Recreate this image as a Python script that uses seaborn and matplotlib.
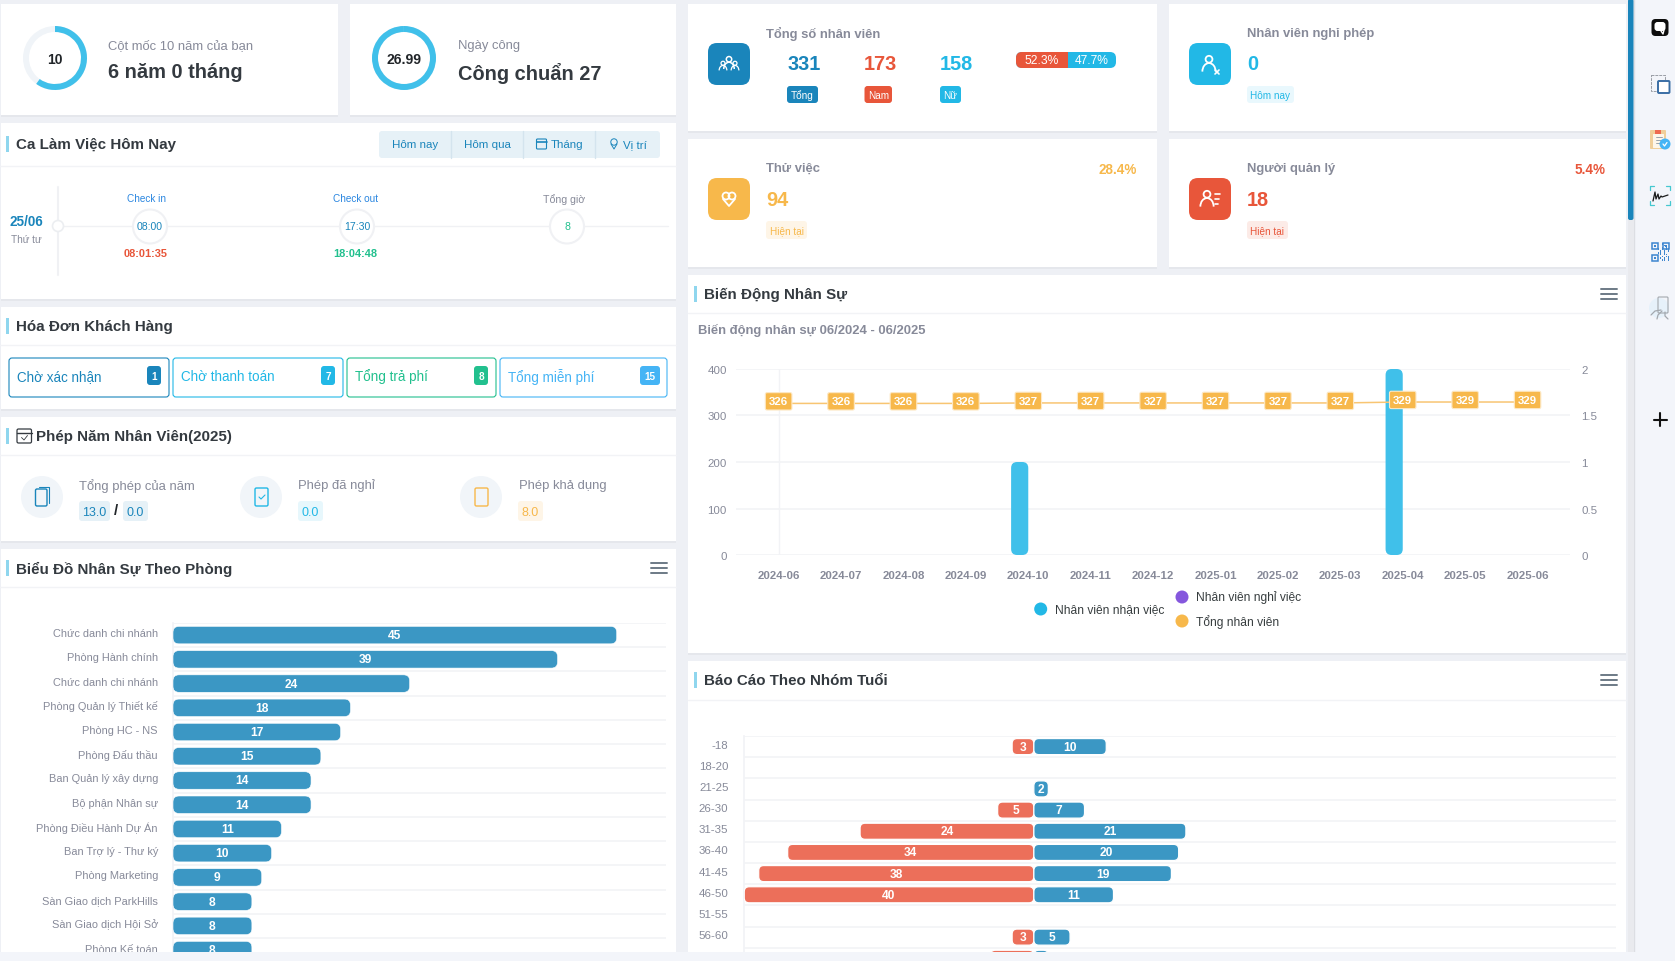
import matplotlib
matplotlib.use('Agg')
import matplotlib.pyplot as plt
from matplotlib.patches import FancyBboxPatch, Circle, Wedge, Rectangle, Arc
from matplotlib.transforms import ScaledTranslation
import seaborn as sns
import pandas as pd
import numpy as np

# Department chart
dept_names = ['Chức danh chi nhánh', 'Phòng Hành chính', 'Chức danh chi nhánh', 'Phòng Quản lý Thiết kế',
              'Phòng HC - NS', 'Phòng Đấu thầu', 'Ban Quản lý xây dựng', 'Bộ phận Nhân sự',
              'Phòng Điều Hành Dự Án', 'Ban Trợ lý - Thư ký', 'Phòng Marketing', 'Sàn Giao dịch ParkHills',
              'Sàn Giao dịch Hội Sở', 'Phòng Kế toán']
dept_counts = [45, 39, 24, 18, 17, 15, 14, 14, 11, 10, 9, 8, 8, 8]

# Staff movement chart
months = ['2024-06', '2024-07', '2024-08', '2024-09', '2024-10', '2024-11', '2024-12',
          '2025-01', '2025-02', '2025-03', '2025-04', '2025-05', '2025-06']
hired = [0, 0, 0, 0, 1, 0, 0, 0, 0, 0, 2, 0, 0]
left = [0, 0, 0, 0, 0, 0, 0, 0, 0, 0, 0, 0, 0]
total_staff = [326, 326, 326, 326, 327, 327, 327, 327, 327, 327, 329, 329, 329]

# Age group chart
age_groups = ['-18', '18-20', '21-25', '26-30', '31-35', '36-40', '41-45', '46-50', '51-55', '56-60', '61-65']
age_female = [3, 0, 0, 5, 24, 34, 38, 40, 0, 3, 6]
age_male = [10, 0, 2, 7, 21, 20, 19, 11, 0, 5, 2]

# Progress rings
milestone_value = 10
milestone_share = 0.6
workday_value = 26.99
workday_share = 26.99 / 27

W, H = 1675, 962
BLUE = '#1a85bb'
CYAN = '#22b8e6'
GREEN = '#22c08e'
SKY = '#45b4f5'
YELLOW = '#f7b84b'
RED = '#e8563a'
GRAY = '#878a99'
DARK = '#343a40'
BAR_BLUE = '#3b97c4'
BAR_RED = '#ec6f5a'
LINE = '#f2f3f6'

sns.set_theme(style='white')
plt.rcParams['font.family'] = ['Liberation Sans', 'DejaVu Sans']

fig = plt.figure(figsize=(W / 100, H / 100), dpi=100, facecolor='#eef0f5')

# whole figure axes in pixel coordinates for the dashboard cards
bg = fig.add_axes([0, 0, 1, 1], zorder=0)
bg.set_xlim(0, W)
bg.set_ylim(H - 1, -1)
bg.axis('off')


def px_axes(x0, y0, x1, y1, zorder=2):
    ax = fig.add_axes([x0 / W, 1 - (y1 + 1) / H, (x1 - x0) / W, (y1 - y0) / H], zorder=zorder)
    ax.patch.set_visible(False)
    return ax


def txt(x, y, s, px=13, color=GRAY, weight='normal', ha='left', ax=bg):
    ax.text(x, y, s, fontsize=px * 0.72, color=color, fontweight=weight, ha=ha, va='center')


def rbox(x0, y0, x1, y1, r=3, fc='white', ec='none', lw=1, z=1):
    bg.add_patch(FancyBboxPatch((x0, y0), x1 - x0, y1 - y0, boxstyle=f'round,pad=0,rounding_size={r}',
                                fc=fc, ec=ec, lw=lw, zorder=z))


def card(x0, y0, x1, y1):
    bg.add_patch(Rectangle((x0, y1), x1 - x0, 2, fc='#e5e7ec', ec='none', zorder=0.9))
    bg.add_patch(Rectangle((x0, y0), x1 - x0, y1 - y0, fc='white', ec='none', zorder=1))


def header(x0, x1, y_mid, y_line, title, tx=None, menu=False):
    bg.add_patch(Rectangle((x0 + 6, y_mid - 8), 3, 16, fc='#8fd6ee', ec='none', zorder=2))
    txt(tx if tx else x0 + 16.5, y_mid, title, px=15.1, color=DARK, weight='bold')
    bg.plot([x0, x1], [y_line, y_line], color=LINE, lw=1, zorder=2)
    if menu:
        for dy in (-5, 0, 5):
            bg.plot([x1 - 25, x1 - 9], [y_mid + dy, y_mid + dy], color='#6c7a86', lw=1.4, zorder=3)


def ring(cx, cy, share, label):
    bg.add_patch(Circle((cx, cy), 29, fc='none', ec='#f0f4f8', lw=4.3, zorder=2))
    bg.add_patch(Wedge((cx, cy), 32, 270, 270 + share * 360, width=6, fc='#40c0ea', ec='none', zorder=3))
    txt(cx, cy + 1, label, px=14, color='#212529', weight='bold', ha='center')


def person(x, y, s=1.0, color='white', lw=1.3):
    bg.add_patch(Circle((x, y - 5 * s), 3.6 * s, fc='none', ec=color, lw=lw, zorder=5))
    bg.add_patch(Arc((x, y + 8 * s), 14 * s, 18 * s, theta1=180, theta2=360, ec=color, lw=lw, zorder=5))


def icon_box(x0, y0, color):
    rbox(x0, y0, x0 + 42, y0 + 42, r=9, fc=color, z=3)
    return x0 + 21, y0 + 21


def chip(x0, y0, x1, y1, s, fc, color, px=10.5, weight='normal'):
    rbox(x0, y0, x1, y1, r=3, fc=fc, z=3)
    txt((x0 + x1) / 2, (y0 + y1) / 2 + 0.5, s, px=px, color=color, weight=weight, ha='center')
    bg.texts[-1].set_zorder(4)


def round_bars(ax, px_x, px_y, r=6, ec='white', lw=0.7):
    # swap seaborn's square bars for rounded ones, same position and size
    for p in list(ax.patches):
        w, h = p.get_width(), p.get_height()
        if w == 0 or h == 0:
            p.remove()
            continue
        x0, y0 = min(p.get_x(), p.get_x() + w), min(p.get_y(), p.get_y() + h)
        color = p.get_facecolor()
        p.remove()
        ax.add_patch(FancyBboxPatch((x0, y0), abs(w), abs(h),
                                    boxstyle=f'round,pad=0,rounding_size={r / px_x}',
                                    mutation_aspect=px_x / px_y, fc=color, ec=ec, lw=lw, zorder=3))


def hbar_style(ax, n, label_px=11, dy=-3):
    ax.set_yticks(np.arange(n + 1) - 0.5, minor=True)
    ax.grid(which='minor', axis='y', color=LINE, lw=1.2)
    ax.grid(which='major', visible=False)
    ax.set_axisbelow(True)
    ax.set_xlabel('')
    ax.set_ylabel('')
    ax.set_xticks([])
    sns.despine(ax=ax, left=False, bottom=True)
    ax.spines['left'].set_color(LINE)
    ax.tick_params(which='both', length=0)
    ax.tick_params(axis='y', pad=10.8, labelsize=label_px * 0.72, labelcolor=GRAY)
    shift = ScaledTranslation(0, -dy / 100, fig.dpi_scale_trans)
    for lab in ax.get_yticklabels():
        lab.set_transform(lab.get_transform() + shift)


# ---- page background pieces
bg.add_patch(Rectangle((1634, -1), W - 1634, H, fc='#f3f5fa', ec='none', zorder=0.5))
bg.plot([1634, 1634], [-1, 953], color='#dcdee3', lw=1, zorder=0.6)
bg.add_patch(Rectangle((1628, -1), 5.5, 954, fc='#e9eaee', ec='none', zorder=0.6))
rbox(1628, -1, 1633.5, 220, r=2, fc=BLUE, z=0.7)

# ---- left column
card(1, 4, 338, 115)
card(350, 4, 676, 115)
ring(55, 58, milestone_share, str(milestone_value))
txt(108, 45, 'Cột mốc 10 năm của bạn', px=13)
txt(108, 72, '6 năm 0 tháng', px=20, color=DARK, weight='bold')
ring(404, 58, workday_share, str(workday_value))
txt(458, 45, 'Ngày công', px=13)
txt(458, 72, 'Công chuẩn 27', px=20, color=DARK, weight='bold')

card(1, 123, 676, 299)
header(0, 676, 144, 166, 'Ca Làm Việc Hôm Nay')
rbox(379, 131, 660, 158, r=3, fc='#e6f1f7', z=2)
for x in (451, 523, 595):
    bg.plot([x, x], [131, 158], color='#d4e4ee', lw=1, zorder=3)
txt(415, 144, 'Hôm nay', px=11.5, color=BLUE, ha='center')
txt(487, 144, 'Hôm qua', px=11.5, color=BLUE, ha='center')
txt(567, 144, 'Tháng', px=11.5, color=BLUE, ha='center')
txt(635, 144, 'Vị trí', px=11.5, color=BLUE, ha='center')
rbox(536.5, 139, 546.5, 149, r=1, fc='none', ec=BLUE, lw=0.8, z=3)
bg.plot([536.5, 546.5], [142, 142], color=BLUE, lw=1.2, zorder=3)
bg.add_patch(Circle((614, 142), 3.2, fc='none', ec=BLUE, lw=0.7, zorder=3))
bg.plot([611, 614, 617], [144, 149, 144], color=BLUE, lw=0.7, zorder=3)

bg.plot([58, 58], [187, 275], color='#f0f1f4', lw=1.5, zorder=2)
bg.plot([58, 668], [226, 226], color='#f0f1f4', lw=1, zorder=2)
bg.add_patch(Circle((58, 226), 5.5, fc='white', ec='#eceef1', lw=1.2, zorder=3))
txt(26, 221, '25/06', px=13.5, color=BLUE, weight='bold', ha='center')
txt(26, 239, 'Thứ tư', px=10, ha='center')
for cx, val, col in ((150, '08:00', BLUE), (357, '17:30', BLUE), (567, '8', GREEN)):
    bg.add_patch(Circle((cx, 226.5), 17, fc='white', ec='#f0f1f4', lw=1.5, zorder=3))
    txt(cx, 226.5, val, px=10.5, color=col, ha='center')
    bg.texts[-1].set_zorder(4)
txt(146.5, 198, 'Check in', px=10, color='#2a86e0', ha='center')
txt(355.5, 198, 'Check out', px=10, color='#2a86e0', ha='center')
txt(564, 199, 'Tổng giờ', px=10.5, ha='center')
txt(146, 253, '08:01:35', px=11, color=RED, weight='bold', ha='center')
txt(355.5, 253, '18:04:48', px=11, color=GREEN, weight='bold', ha='center')

card(1, 307, 676, 409)
header(0, 676, 326, 345, 'Hóa Đơn Khách Hàng')
buttons = [(9, 169, 147, 161, 'Chờ xác nhận', '1', BLUE), (173, 343, 321, 335, 'Chờ thanh toán', '7', CYAN),
           (347, 496, 474, 488, 'Tổng trả phí', '8', GREEN), (500, 667, 640, 660, 'Tổng miễn phí', '15', SKY)]
for x0, x1, b0, b1, label, num, col in buttons:
    rbox(x0, 358, x1, 397, r=3, fc='white', ec=col, lw=0.8, z=2)
    txt(x0 + 8, 376, label, px=13.5, color=col)
    chip(b0, 366, b1, 385, num, col, 'white', px=10, weight='bold')

card(1, 417, 676, 541)
header(0, 676, 436, 455, 'Phép Năm Nhân Viên(2025)', tx=36)
rbox(17, 429, 31.5, 443, r=1.5, fc='none', ec=DARK, lw=0.9, z=3)
bg.plot([17, 31.5], [432.5, 432.5], color=DARK, lw=1, zorder=3)
bg.plot([21.5, 24, 27.5], [437.5, 440, 435.5], color=DARK, lw=0.6, zorder=3)
for cx in (42, 261, 481):
    bg.add_patch(Circle((cx, 497), 21, fc='#f1f5f9', ec='none', zorder=2))
rbox(35.5, 489, 47, 506, r=1.5, fc='none', ec=BLUE, lw=1, z=3)
bg.plot([39, 49, 49], [487, 487, 503], color=BLUE, lw=0.8, zorder=3)
rbox(255, 488, 268, 506, r=1.5, fc='none', ec=CYAN, lw=1, z=3)
bg.plot([259, 261, 265], [497, 499, 495], color=CYAN, lw=0.8, zorder=3)
rbox(475, 488, 488, 506, r=1.5, fc='none', ec=YELLOW, lw=1, z=3)
txt(79, 485, 'Tổng phép của năm', px=13)
txt(298, 485, 'Phép đã nghỉ', px=13)
txt(519, 485, 'Phép khả dụng', px=13)
chip(79, 501, 110, 521, '13.0', '#e6f1f7', BLUE, px=12.5)
txt(116, 510, '/', px=15, color='#212529', weight='bold', ha='center')
chip(123, 501, 148, 521, '0.0', '#e6f1f7', BLUE, px=12.5)
chip(298, 501, 323, 521, '0.0', '#e7f7fc', CYAN, px=12.5)
chip(518, 501, 543, 521, '8.0', '#fef5e7', YELLOW, px=12.5)

card(1, 549, 676, 955)
header(0, 676, 568, 587, 'Biểu Đồ Nhân Sự Theo Phòng', menu=True)

dept_df = pd.DataFrame({'dept': np.arange(len(dept_names)), 'count': dept_counts})
dept_ax = px_axes(173, 623, 666, 953)
sns.barplot(data=dept_df, y='dept', x='count', orient='y', color=BAR_BLUE, saturation=1, width=0.72, ax=dept_ax)
dept_ax.set_yticks(np.arange(len(dept_names)))
dept_ax.set_yticklabels(dept_names)
hbar_style(dept_ax, len(dept_names), label_px=11)
dept_ax.set_xlim(0, 50)
dept_ax.set_ylim(-0.5 + 330 / 24.23, -0.5)
round_bars(dept_ax, 493 / 50, 24.23, lw=0.4)
for i, v in enumerate(dept_counts):
    dept_ax.text(v / 2, i, str(v), color='white', fontsize=12 * 0.72, fontweight='bold',
                 ha='center', va='center', zorder=5, clip_on=True)

# ---- top right stat cards
card(688, 4, 1157, 131)
card(1169, 4, 1626, 131)
card(688, 139, 1157, 267)
card(1169, 139, 1626, 267)

cx, cy = icon_box(708, 43, BLUE)
person(cx, cy - 1, 0.75, lw=1.1)
person(cx - 6, cy + 2, 0.55, lw=0.9)
person(cx + 6, cy + 2, 0.55, lw=0.9)
txt(766, 33, 'Tổng số nhân viên', px=13, weight='bold')
txt(804, 64, '331', px=20, color=BLUE, weight='bold', ha='center')
txt(880.5, 64, '173', px=20, color=RED, weight='bold', ha='center')
txt(956.5, 64, '158', px=20, color=CYAN, weight='bold', ha='center')
chip(787, 86, 818, 103, 'Tổng', BLUE, 'white', px=10)
chip(864.5, 86, 892, 103, 'Nam', RED, 'white', px=10)
chip(940, 86, 961, 103, 'Nữ', CYAN, 'white', px=10)
rbox(1016, 52, 1116, 68, r=6, fc=CYAN, z=2)
rbox(1016, 52, 1074, 68, r=6, fc=RED, z=2.1)
bg.add_patch(Rectangle((1068, 52), 10, 16, fc=CYAN, ec='none', zorder=2.2))
txt(1041.5, 60, '52.3%', px=12, color='white', ha='center')
txt(1092, 60, '47.7%', px=12, color='white', ha='center')

cx, cy = icon_box(1189, 43, CYAN)
person(cx - 1, cy, 0.95)
bg.plot([cx + 5, cx + 9], [cy + 6, cy + 10], color='white', lw=1.2, zorder=5)
bg.plot([cx + 9, cx + 5], [cy + 6, cy + 10], color='white', lw=1.2, zorder=5)
txt(1247, 33, 'Nhân viên nghỉ phép', px=13, weight='bold')
txt(1247, 64, '0', px=20, color=CYAN, weight='bold')
chip(1247, 86, 1294, 103, 'Hôm nay', '#e9f8fd', CYAN, px=10)

cx, cy = icon_box(708, 178, YELLOW)
bg.add_patch(Circle((cx - 3, cy - 3), 3.5, fc='none', ec='white', lw=1.3, zorder=5))
bg.add_patch(Circle((cx + 3, cy - 3), 3.5, fc='none', ec='white', lw=1.3, zorder=5))
bg.plot([cx - 6, cx, cx + 6], [cy, cy + 7, cy], color='white', lw=1.3, zorder=5)
txt(766, 168, 'Thử việc', px=13, weight='bold')
txt(1137, 169, '28.4%', px=13.5, color=YELLOW, weight='bold', ha='right')
txt(766, 199.5, '94', px=20, color=YELLOW, weight='bold')
chip(766, 221, 807, 239, 'Hiện tại', '#fef5e7', YELLOW, px=10)

cx, cy = icon_box(1189, 178, RED)
person(cx - 3, cy, 0.95)
for dy, x1 in ((-5, 10), (0, 9), (5, 8)):
    bg.plot([cx + 5, cx + x1], [cy + dy, cy + dy], color='white', lw=1.2, zorder=5)
txt(1247, 168, 'Người quản lý', px=13, weight='bold')
txt(1606, 169, '5.4%', px=13.5, color=RED, weight='bold', ha='right')
txt(1247, 199.5, '18', px=20, color=RED, weight='bold')
chip(1247, 221, 1288, 239, 'Hiện tại', '#fcebe7', RED, px=10)

# ---- staff movement
card(688, 275, 1626, 653)
header(688, 1626, 294, 313, 'Biến Động Nhân Sự', tx=704, menu=True)
txt(698, 329, 'Biến động nhân sự 06/2024 - 06/2025', px=13, weight='bold')

move_df = pd.DataFrame({'month': months * 2, 'count': hired + left,
                        'kind': ['Nhân viên nhận việc'] * len(months) + ['Nhân viên nghỉ việc'] * len(months)})
line_df = pd.DataFrame({'idx': np.arange(len(months)), 'total': total_staff})

move_ax = px_axes(736, 369, 1570, 555, zorder=3)
bar_ax = move_ax.twinx()
bar_ax.patch.set_visible(False)
bar_ax.set_zorder(2)
sns.barplot(data=move_df, x='month', y='count', hue='kind', palette=['#40c0ea', '#8557dd'], saturation=1,
            width=0.55, legend=False, ax=bar_ax)
sns.lineplot(data=line_df, x='idx', y='total', color='#f8c572', lw=1.1, ax=move_ax)
for ax in (move_ax, bar_ax):
    ax.set_xlim(-0.683, 12.68)
    ax.set_xlabel('')
    ax.set_ylabel('')
    sns.despine(ax=ax, left=True, right=True, top=True, bottom=True)
move_ax.set_ylim(0, 400)
bar_ax.set_ylim(0, 2)
move_ax.set_yticks([0, 100, 200, 300, 400])
bar_ax.set_yticks([0, 0.5, 1, 1.5, 2])
bar_ax.set_yticklabels(['0', '0.5', '1', '1.5', '2'])
move_ax.set_xticks(np.arange(len(months)))
move_ax.set_xticklabels(months)
# grid goes on the lower axes so it stays behind the columns
bar_ax.grid(axis='y', color=LINE, lw=1.2)
bar_ax.grid(axis='x', visible=False)
bar_ax.set_axisbelow(True)
move_ax.grid(False)
bar_ax.axvline(0, color=LINE, lw=1)
move_ax.tick_params(axis='x', length=0, pad=10.5, labelsize=11.5 * 0.72, labelcolor=GRAY)
for t in move_ax.get_xticklabels():
    t.set_fontweight('bold')
move_ax.tick_params(axis='y', length=0, pad=6.5, labelsize=11.5 * 0.72, labelcolor=GRAY)
bar_ax.tick_params(axis='y', length=0, pad=8, labelsize=11.5 * 0.72, labelcolor=GRAY)
round_bars(bar_ax, 62.4, 93, r=6, ec='none', lw=0)
for i, v in enumerate(total_staff):
    move_ax.annotate(str(v), (i, v), xytext=(0, 1.5), textcoords='offset points', ha='center', va='center',
                     color='white', fontsize=11.5 * 0.72, fontweight='bold', zorder=6,
                     bbox=dict(boxstyle='round,pad=0.32,rounding_size=0.15', fc=YELLOW, ec='#fde8c4', lw=0.8))

bg.add_patch(Circle((1040.7, 609), 6.5, fc='#22b8e6', ec='none', zorder=3))
bg.add_patch(Circle((1182, 597), 6.5, fc='#8557dd', ec='none', zorder=3))
bg.add_patch(Circle((1182, 621), 6.5, fc=YELLOW, ec='none', zorder=3))
txt(1055, 609, 'Nhân viên nhận việc', px=12, color='#373d3f')
txt(1196, 597, 'Nhân viên nghỉ việc', px=12, color='#373d3f')
txt(1196, 621, 'Tổng nhân viên', px=12, color='#373d3f')

# ---- age groups
card(688, 661, 1626, 955)
header(688, 1626, 680, 700, 'Báo Cáo Theo Nhóm Tuổi', tx=703.5, menu=True)

age_df = pd.DataFrame({'group': list(np.arange(len(age_groups))) * 2,
                       'count': [-v for v in age_female] + age_male,
                       'sex': ['Nữ'] * len(age_groups) + ['Nam'] * len(age_groups)})
age_ax = px_axes(743.5, 736, 1616, 953)
sns.barplot(data=age_df, y='group', x='count', hue='sex', orient='y', dodge=False, width=0.76,
            palette=[BAR_RED, BAR_BLUE], saturation=1, legend=False, ax=age_ax)
age_ax.set_yticks(np.arange(len(age_groups)))
age_ax.set_yticklabels(age_groups)
hbar_style(age_ax, len(age_groups), label_px=11.5)
age_ax.set_xlim(-40.1, 80.4)
age_ax.set_ylim(-0.5 + 217 / 21.17, -0.5)
round_bars(age_ax, 7.24, 21.17, r=5, lw=0.9)
for i, (f, m) in enumerate(zip(age_female, age_male)):
    if f:
        age_ax.text(-f / 2, i, str(f), color='white', fontsize=12 * 0.72, fontweight='bold',
                    ha='center', va='center', zorder=5, clip_on=True)
    if m:
        age_ax.text(m / 2, i, str(m), color='white', fontsize=12 * 0.72, fontweight='bold',
                    ha='center', va='center', zorder=5, clip_on=True)

# ---- right sidebar icons
sx = 1660
rbox(sx - 8.5, 19, sx + 8.5, 36, r=4, fc='#0d0d0d', z=3)
rbox(sx - 5.5, 22, sx + 5.5, 31, r=3, fc='white', z=4)
bg.plot([sx + 1, sx + 3, sx + 4], [31, 34, 30], color='white', lw=1, zorder=4)

bg.add_patch(Rectangle((sx - 9.5, 75), 14, 16, fc='none', ec='#9a9ea6', lw=0.7, ls=(0, (3, 1)), zorder=3))
rbox(sx - 2, 81, sx + 9.5, 93, r=1, fc='white', ec='#3a6ea5', lw=1.4, z=4)

rbox(sx - 10, 130, sx + 6, 149, r=1, fc='#f0cf9a', z=3)
rbox(sx - 7, 134, sx + 4, 148, r=0.5, fc='#fdf6ea', z=3.1)
bg.add_patch(Rectangle((sx - 5, 130), 6, 4, fc='#ee6a50', ec='none', zorder=3.2))
for dy in (137, 140, 143):
    bg.plot([sx - 4, sx + 2], [dy, dy], color='#8a97a3', lw=0.6, zorder=3.2)
bg.add_patch(Circle((sx + 5, 144), 5.5, fc='#45b4f5', ec='none', zorder=3.3))
bg.plot([sx + 3, sx + 4.5, sx + 7], [144, 146, 142.5], color='white', lw=0.9, zorder=3.4)

for xs, ys in (((sx - 10, sx - 10, sx - 6), (190, 186, 186)), ((sx + 6, sx + 10, sx + 10), (186, 186, 190)),
               ((sx - 10, sx - 10, sx - 6), (201, 205, 205)), ((sx + 6, sx + 10, sx + 10), (205, 205, 201))):
    bg.plot(xs, ys, color='#45c8d0', lw=0.9, zorder=3)
bg.plot([sx - 7, sx - 5, sx - 4, sx - 2, sx - 1, sx + 1, sx + 2, sx + 8],
        [201, 192, 199, 194, 199, 196, 197, 195], color='#1c1c1c', lw=0.9, zorder=3)

for qx, qy in ((sx - 8.5, 243), (sx + 3, 243), (sx - 8.5, 254.5)):
    bg.add_patch(Rectangle((qx, qy), 6, 6, fc='none', ec='#3d86cf', lw=1.1, zorder=3))
    bg.add_patch(Rectangle((qx + 2, qy + 2), 2, 2, fc='#3d86cf', ec='none', zorder=3))
qr_rows = ['..#...', '...#..', '..#.#.', '#.#.##', '.#.#.#', '##.#..', '.#.##.', '..#.##', '.#.#.#', '..##.#']
for b, row in enumerate(qr_rows):
    for a, c in enumerate(row):
        if c == '#':
            bg.add_patch(Rectangle((sx - 2.5 + a * 2, 243 + b * 1.8), 1.8, 1.6, fc='#3d86cf', ec='none', zorder=3))

bg.add_patch(Circle((sx - 1, 308), 10, fc='#e6f1fa', ec='none', zorder=2))
rbox(sx - 2, 297, sx + 8, 313, r=1, fc='none', ec='#a3a8ae', lw=0.8, z=3)
for xs, ys in (((sx + 1, sx - 5, sx - 9), (310, 311, 315)), ((sx + 2, sx - 2, sx - 3), (311, 315, 319)),
               ((sx + 5, sx + 5, sx + 8), (312, 316, 319))):
    bg.plot(xs, ys, color='#a3a8ae', lw=0.9, zorder=3)

bg.plot([sx - 6.5, sx + 6.5], [419.5, 419.5], color='#111111', lw=1.5, zorder=3)
bg.plot([sx, sx], [413, 426], color='#111111', lw=1.5, zorder=3)

# bottom strip sits above the charts so it cuts them off like the page does
top = fig.add_axes([0, 0, 1, 1], zorder=20)
top.set_xlim(0, W)
top.set_ylim(H, 0)
top.axis('off')
top.add_patch(Rectangle((0, 953), W, 9, fc='#f3f5fa', ec='none'))

fig.savefig('out.png', dpi=100, facecolor=fig.get_facecolor())
